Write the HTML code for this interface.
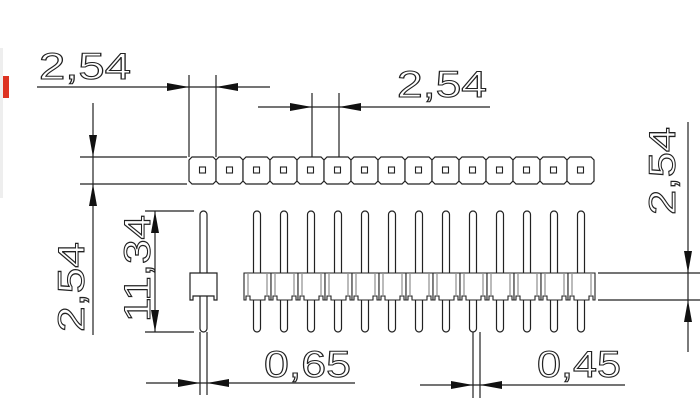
<!DOCTYPE html>
<html><head><style>html,body{margin:0;padding:0;background:#fff;width:700px;height:406px;overflow:hidden}
text{font-family:"Liberation Sans",sans-serif;font-size:37px;fill:none;stroke:#222;stroke-width:1.05px}</style></head>
<body>
<svg width="700" height="406" viewBox="0 0 700 406" xmlns="http://www.w3.org/2000/svg">
<defs>
<g id="cell"><path d="M3,0 H24 L27,3 V24 L24,27 H3 L0,24 V3 Z" fill="#fff" stroke="#222" stroke-width="1.2"/><rect x="10.5" y="10" width="6" height="6" fill="none" stroke="#222" stroke-width="1.1"/></g>
<g id="pin"><rect x="-3.5" y="0" width="7" height="121" rx="3.5" fill="#fff" stroke="#222" stroke-width="1.2"/></g>
<g id="seg"><path d="M0,0 H27 V27 H25 V23 H21 V27 H6 V23 H2 V27 H0 Z" fill="#fff" stroke="#222" stroke-width="1.1"/><line x1="4" y1="1" x2="4" y2="22" stroke="#bbb" stroke-width="2"/><line x1="23" y1="1" x2="23" y2="22" stroke="#bbb" stroke-width="2"/></g>
<polygon id="ar" points="0,0 -22,-4 -22,4" fill="#111"/>
</defs>
<rect x="0" y="76" width="9" height="22" fill="#d32"/>
<rect x="0" y="48" width="3" height="150" fill="#eee"/>
<g stroke="#222" stroke-width="1.2" fill="none">
<line x1="37" y1="87" x2="270" y2="87"/><line x1="189" y1="75" x2="189" y2="157"/><line x1="216" y1="75" x2="216" y2="157"/>
<line x1="258" y1="107" x2="490" y2="107"/><line x1="312" y1="93" x2="312" y2="157"/><line x1="339" y1="93" x2="339" y2="157"/>
<line x1="80" y1="157" x2="187" y2="157"/><line x1="80" y1="184" x2="187" y2="184"/><line x1="93" y1="103" x2="93" y2="335"/>
<line x1="145" y1="211" x2="194" y2="211"/><line x1="145" y1="332" x2="194" y2="332"/><line x1="155" y1="211" x2="155" y2="332"/>
<line x1="598" y1="273" x2="700" y2="273"/><line x1="598" y1="300" x2="700" y2="300"/><line x1="688" y1="122" x2="688" y2="352"/>
<line x1="146" y1="383" x2="355" y2="383"/><line x1="200" y1="332" x2="200" y2="395"/><line x1="207" y1="332" x2="207" y2="395"/>
<line x1="420" y1="385" x2="625" y2="385"/><line x1="473" y1="332" x2="473" y2="398"/><line x1="480" y1="332" x2="480" y2="398"/>
</g>
<use href="#ar" transform="translate(189,87)"/><use href="#ar" transform="translate(216,87) rotate(180)"/>
<use href="#ar" transform="translate(312,107)"/><use href="#ar" transform="translate(339,107) rotate(180)"/>
<use href="#ar" transform="translate(93,157) rotate(90)"/><use href="#ar" transform="translate(93,184) rotate(-90)"/>
<use href="#ar" transform="translate(155,211) rotate(-90)"/><use href="#ar" transform="translate(155,332) rotate(90)"/>
<use href="#ar" transform="translate(688,273) rotate(90)"/><use href="#ar" transform="translate(688,300) rotate(-90)"/>
<use href="#ar" transform="translate(200,383)"/><use href="#ar" transform="translate(207,383) rotate(180)"/>
<use href="#ar" transform="translate(473,385)"/><use href="#ar" transform="translate(480,385) rotate(180)"/>
<g transform="translate(189,157)">
<use href="#cell" x="0"/><use href="#cell" x="27"/><use href="#cell" x="54"/><use href="#cell" x="81"/><use href="#cell" x="108"/><use href="#cell" x="135"/><use href="#cell" x="162"/><use href="#cell" x="189"/><use href="#cell" x="216"/><use href="#cell" x="243"/><use href="#cell" x="270"/><use href="#cell" x="297"/><use href="#cell" x="324"/><use href="#cell" x="351"/><use href="#cell" x="378"/>
</g>
<use href="#pin" x="203.5" y="211"/>
<path d="M190,273 H217 V300 H214 V296 H193 V300 H190 Z" fill="#fff" stroke="#222" stroke-width="1.2"/>
<g transform="translate(0,211)">
<use href="#pin" x="257"/><use href="#pin" x="284"/><use href="#pin" x="311"/><use href="#pin" x="338"/><use href="#pin" x="365"/><use href="#pin" x="392"/><use href="#pin" x="419"/><use href="#pin" x="446"/><use href="#pin" x="473"/><use href="#pin" x="500"/><use href="#pin" x="527"/><use href="#pin" x="554"/><use href="#pin" x="581"/>
</g>
<g transform="translate(244,273)">
<use href="#seg" x="0"/><use href="#seg" x="27"/><use href="#seg" x="54"/><use href="#seg" x="81"/><use href="#seg" x="108"/><use href="#seg" x="135"/><use href="#seg" x="162"/><use href="#seg" x="189"/><use href="#seg" x="216"/><use href="#seg" x="243"/><use href="#seg" x="270"/><use href="#seg" x="297"/><use href="#seg" x="324"/>
</g>
<text x="39" y="79" textLength="92" lengthAdjust="spacingAndGlyphs">2,54</text>
<text x="397" y="97" textLength="90" lengthAdjust="spacingAndGlyphs">2,54</text>
<text x="264" y="377" textLength="87" lengthAdjust="spacingAndGlyphs">0,65</text>
<text x="537" y="377" textLength="84" lengthAdjust="spacingAndGlyphs">0,45</text>
<text transform="translate(84,332) rotate(-90)" textLength="90" lengthAdjust="spacingAndGlyphs">2,54</text>
<text transform="translate(150,322) rotate(-90)" textLength="107" lengthAdjust="spacingAndGlyphs">11,34</text>
<text transform="translate(675,215) rotate(-90)" textLength="88" lengthAdjust="spacingAndGlyphs">2,54</text>
</svg>
</body></html>
